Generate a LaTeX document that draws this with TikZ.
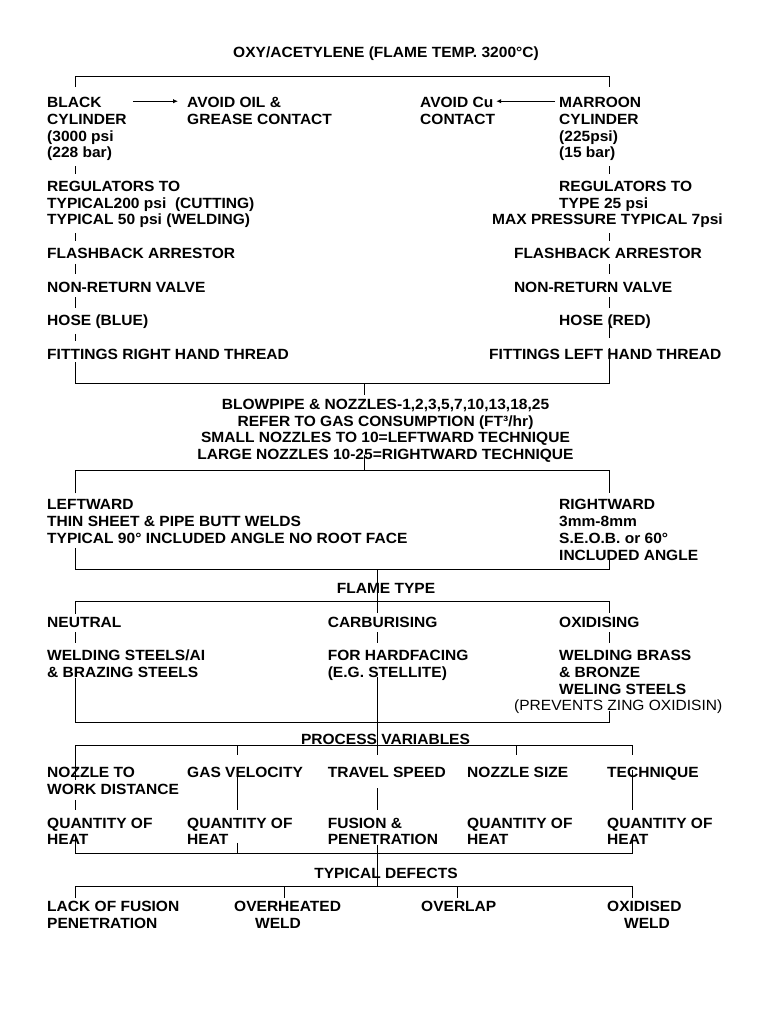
\documentclass[tikz,border=0pt]{standalone}
\usepackage{fontspec}
\setmainfont{Liberation Sans}[FakeStretch=1.05]
\usetikzlibrary{arrows.meta}

\tikzset{
  txt/.style={anchor=base west, inner sep=0pt, align=left, font=\fontsize{14.8}{16.75}\selectfont\bfseries},
  plain/.style={txt, font=\fontsize{14.8}{16.75}\selectfont\mdseries},
  head/.style={txt, anchor=base, align=center},
  link/.style={line width=1pt},
  tick/.style={link, shorten <=5pt, shorten >=7pt},
  arr/.style={link, -{Latex[length=5pt,width=4.5pt]}}
}

\begin{document}
\begin{tikzpicture}[x=1pt,y=-1pt]
    \fill[white] (0,0) rectangle (768,1024);
    \useasboundingbox (0,0) rectangle (768,1024);

    % columns and bracket levels
    \coordinate (cL) at (75.5,0);
    \coordinate (cR) at (609,0);
    \coordinate (cM) at (364.3,0);
    \coordinate (cF) at (377,0);
    \coordinate (cG) at (237.3,0);
    \coordinate (cS) at (516,0);
    \coordinate (cQ) at (632,0);
    \coordinate (cO) at (284.3,0);
    \coordinate (cP) at (457.3,0);
    \coordinate (b1) at (0,77);
    \coordinate (b2) at (0,383);
    \coordinate (b3) at (0,470);
    \coordinate (b4) at (0,569.3);
    \coordinate (b5) at (0,601.7);
    \coordinate (b6) at (0,722.5);
    \coordinate (b7) at (0,745);
    \coordinate (b8) at (0,853.3);
    \coordinate (b9) at (0,886);

    % nodes sit on the baseline of their last line
    \node[head] (title) at (386,57.5) {OXY/ACETYLENE (FLAME TEMP. 3200°C)};

    \node[txt] (blk) at (47,158) {BLACK\\CYLINDER\\(3000 psi\\(228 bar)};
    \node[txt] (oil) at (187,124.5) {AVOID OIL \&\\GREASE CONTACT};
    \node[txt] (cu) at (420,124.5) {AVOID Cu\\CONTACT};
    \node[txt] (mar) at (559,158) {MARROON\\CYLINDER\\(225psi)\\(15 bar)};
    \node[txt] (regL) at (47,225) {REGULATORS TO\\TYPICAL200 psi\ \ (CUTTING)\\TYPICAL 50 psi (WELDING)};
    \node[txt] (regR) at (492,225) {\hspace*{67pt}REGULATORS TO\\\hspace*{67pt}TYPE 25 psi\\MAX PRESSURE TYPICAL 7psi};
    \node[txt] (flashL) at (47,258.5) {FLASHBACK ARRESTOR};
    \node[txt] (flashR) at (513.8,258.5) {FLASHBACK ARRESTOR};
    \node[txt] (nonL) at (47,292) {NON-RETURN VALVE};
    \node[txt] (nonR) at (513.8,292) {NON-RETURN VALVE};
    \node[txt] (hoseL) at (47,325.5) {HOSE (BLUE)};
    \node[txt] (hoseR) at (559,325.5) {HOSE (RED)};
    \node[txt] (fitL) at (47,359) {FITTINGS RIGHT HAND THREAD};
    \node[txt] (fitR) at (489,359) {FITTINGS LEFT HAND THREAD};

    \node[head] (blow) at (385.5,459.5) {BLOWPIPE \& NOZZLES-1,2,3,5,7,10,13,18,25\\REFER TO GAS CONSUMPTION (FT³/hr)\\SMALL NOZZLES TO 10=LEFTWARD TECHNIQUE\\LARGE NOZZLES 10-25=RIGHTWARD TECHNIQUE};

    \node[txt] (leftw) at (47,543.25) {LEFTWARD\\THIN SHEET \& PIPE BUTT WELDS\\TYPICAL 90° INCLUDED ANGLE NO ROOT FACE};
    \node[txt] (rightw) at (559,560) {RIGHTWARD\\3mm-8mm\\S.E.O.B. or 60°\\INCLUDED ANGLE};

    \node[head] (flame) at (386,593.5) {FLAME TYPE};
    \node[txt] (neut) at (47,627) {NEUTRAL};
    \node[txt] (carb) at (327.6,627) {CARBURISING};
    \node[txt] (oxid) at (559,627) {OXIDISING};
    \node[txt] (weldL) at (47,677.25) {WELDING STEELS/AI\\\& BRAZING STEELS};
    \node[txt] (hard) at (327.6,677.25) {FOR HARDFACING\\(E.G. STELLITE)};
    \node[txt] (weldR) at (559,694) {WELDING BRASS\\\& BRONZE\\WELING STEELS};
    \node[plain] (prev) at (514,710.75) {(PREVENTS ZING OXIDISIN)};

    \node[head] (procv) at (385.5,744.25) {PROCESS VARIABLES};
    \node[txt] (nozw) at (47,794.5) {NOZZLE TO\\WORK DISTANCE};
    \node[txt] (gas) at (187,777.75) {GAS VELOCITY};
    \node[txt] (travel) at (327.6,777.75) {TRAVEL SPEED};
    \node[txt] (nsize) at (467,777.75) {NOZZLE SIZE};
    \node[txt] (tech) at (607,777.75) {TECHNIQUE};
    \node[txt] (qtyL) at (47,844.75) {QUANTITY OF\\HEAT};
    \node[txt] (qtyG) at (187,844.75) {QUANTITY OF\\HEAT};
    \node[txt] (fus) at (327.6,844.75) {FUSION \&\\PENETRATION};
    \node[txt] (qtyS) at (467,844.75) {QUANTITY OF\\HEAT};
    \node[txt] (qtyT) at (607,844.75) {QUANTITY OF\\HEAT};

    \node[head] (defects) at (386,878.25) {TYPICAL DEFECTS};
    \node[txt] (lack) at (47,928.5) {LACK OF FUSION\\PENETRATION};
    \node[txt] (overh) at (234,928.5) {OVERHEATED\\\hspace*{21pt}WELD};
    \node[txt] (overl) at (421,911.75) {OVERLAP};
    \node[txt] (oxd) at (607,928.5) {OXIDISED\\\hspace*{17pt}WELD};

    % gases
    \draw[link, shorten <=10pt, shorten >=10pt] (blk.north -| cL) -- (cL |- b1) -- (cR |- b1) -- (mar.north -| cR);
    \draw[arr, shorten <=6pt, shorten >=9pt] ([yshift=-4pt]blk.north east) -- ([yshift=-4pt]oil.north west);
    \draw[arr, shorten <=4pt, shorten >=1pt] ([yshift=-4pt]mar.north west) -- ([yshift=-4pt]cu.north east);
    \foreach \a/\b in {blk/regL, regL/flashL, flashL/nonL, nonL/hoseL, hoseL/fitL}
      \draw[tick] (\a.south -| cL) -- (\b.north -| cL);
    \foreach \a/\b in {mar/regR, regR/flashR, flashR/nonR, nonR/hoseR}
      \draw[tick] (\a.south -| cR) -- (\b.north -| cR);
    \draw[link, shorten >=10pt] (hoseR.center -| cR) -- (fitR.north -| cR);

    % blowpipe
    \draw[link, shorten <=3pt] (fitL.south -| cL) -- (cL |- b2) -- (cR |- b2) -- (fitR.north -| cR);
    \draw[link, shorten >=3.5pt] (cM |- b2) -- (blow.north -| cM);
    \draw[link, shorten <=-8pt] (blow.south -| cM) -- (cM |- b3);
    \draw[link, shorten <=6pt, shorten >=6pt] (leftw.north -| cL) -- (cL |- b3) -- (cR |- b3) -- (rightw.north -| cR);

    % flame type
    \draw[link, shorten <=4.75pt] (leftw.south -| cL) -- (cL |- b4) -- (cR |- b4) -- (rightw.south -| cR);
    \draw[link, shorten >=3pt] (cF |- b4) -- (carb.north -| cF);
    \draw[link, shorten <=3pt, shorten >=3pt] (neut.north -| cL) -- (cL |- b5) -- (cR |- b5) -- (oxid.north -| cR);
    \foreach \a/\b/\c in {neut/weldL/cL, carb/hard/cF, oxid/weldR/cR}
      \draw[tick] (\a.south -| \c) -- (\b.north -| \c);

    % process variables
    \draw[link] (weldL.south -| cL) -- (cL |- b6) -- (cR |- b6) -- (prev.base -| cR);
    \draw[link, shorten <=-3.5pt, shorten >=12pt] (hard.south -| cF) -- (travel.north -| cF);
    \draw[link, shorten <=-13pt, shorten >=12pt] (nozw.north -| cL) -- (cL |- b7) -- (cQ |- b7) -- (tech.north -| cQ);
    \foreach \n/\c in {gas/cG, nsize/cS}
      \draw[link, shorten >=12pt] (\c |- b7) -- (\n.north -| \c);
    \foreach \a/\b/\c in {gas/qtyG/cG, tech/qtyT/cQ}
      \draw[link, shorten <=3pt, shorten >=7pt] (\a.north -| \c) -- (\b.north -| \c);
    \draw[tick] (nozw.south -| cL) -- (qtyL.north -| cL);
    \draw[tick, shorten <=10pt] (travel.south -| cF) -- (fus.north -| cF);

    % typical defects
    \draw[link, shorten <=-8pt, shorten >=-8pt] (qtyL.south -| cL) -- (cL |- b8) -- (cQ |- b8) -- (qtyT.south -| cQ);
    \draw[link, shorten <=-2pt] (qtyG.south -| cG) -- (cG |- b8);
    \draw[link] (fus.south -| cF) -- (cF |- b9);
    \draw[link, shorten <=3pt, shorten >=3pt] (lack.north -| cL) -- (cL |- b9) -- (cQ |- b9) -- (oxd.north -| cQ);
    \foreach \n/\c in {overh/cO, overl/cP}
      \draw[link, shorten >=3pt] (\c |- b9) -- (\n.north -| \c);

\end{tikzpicture}
\end{document}
